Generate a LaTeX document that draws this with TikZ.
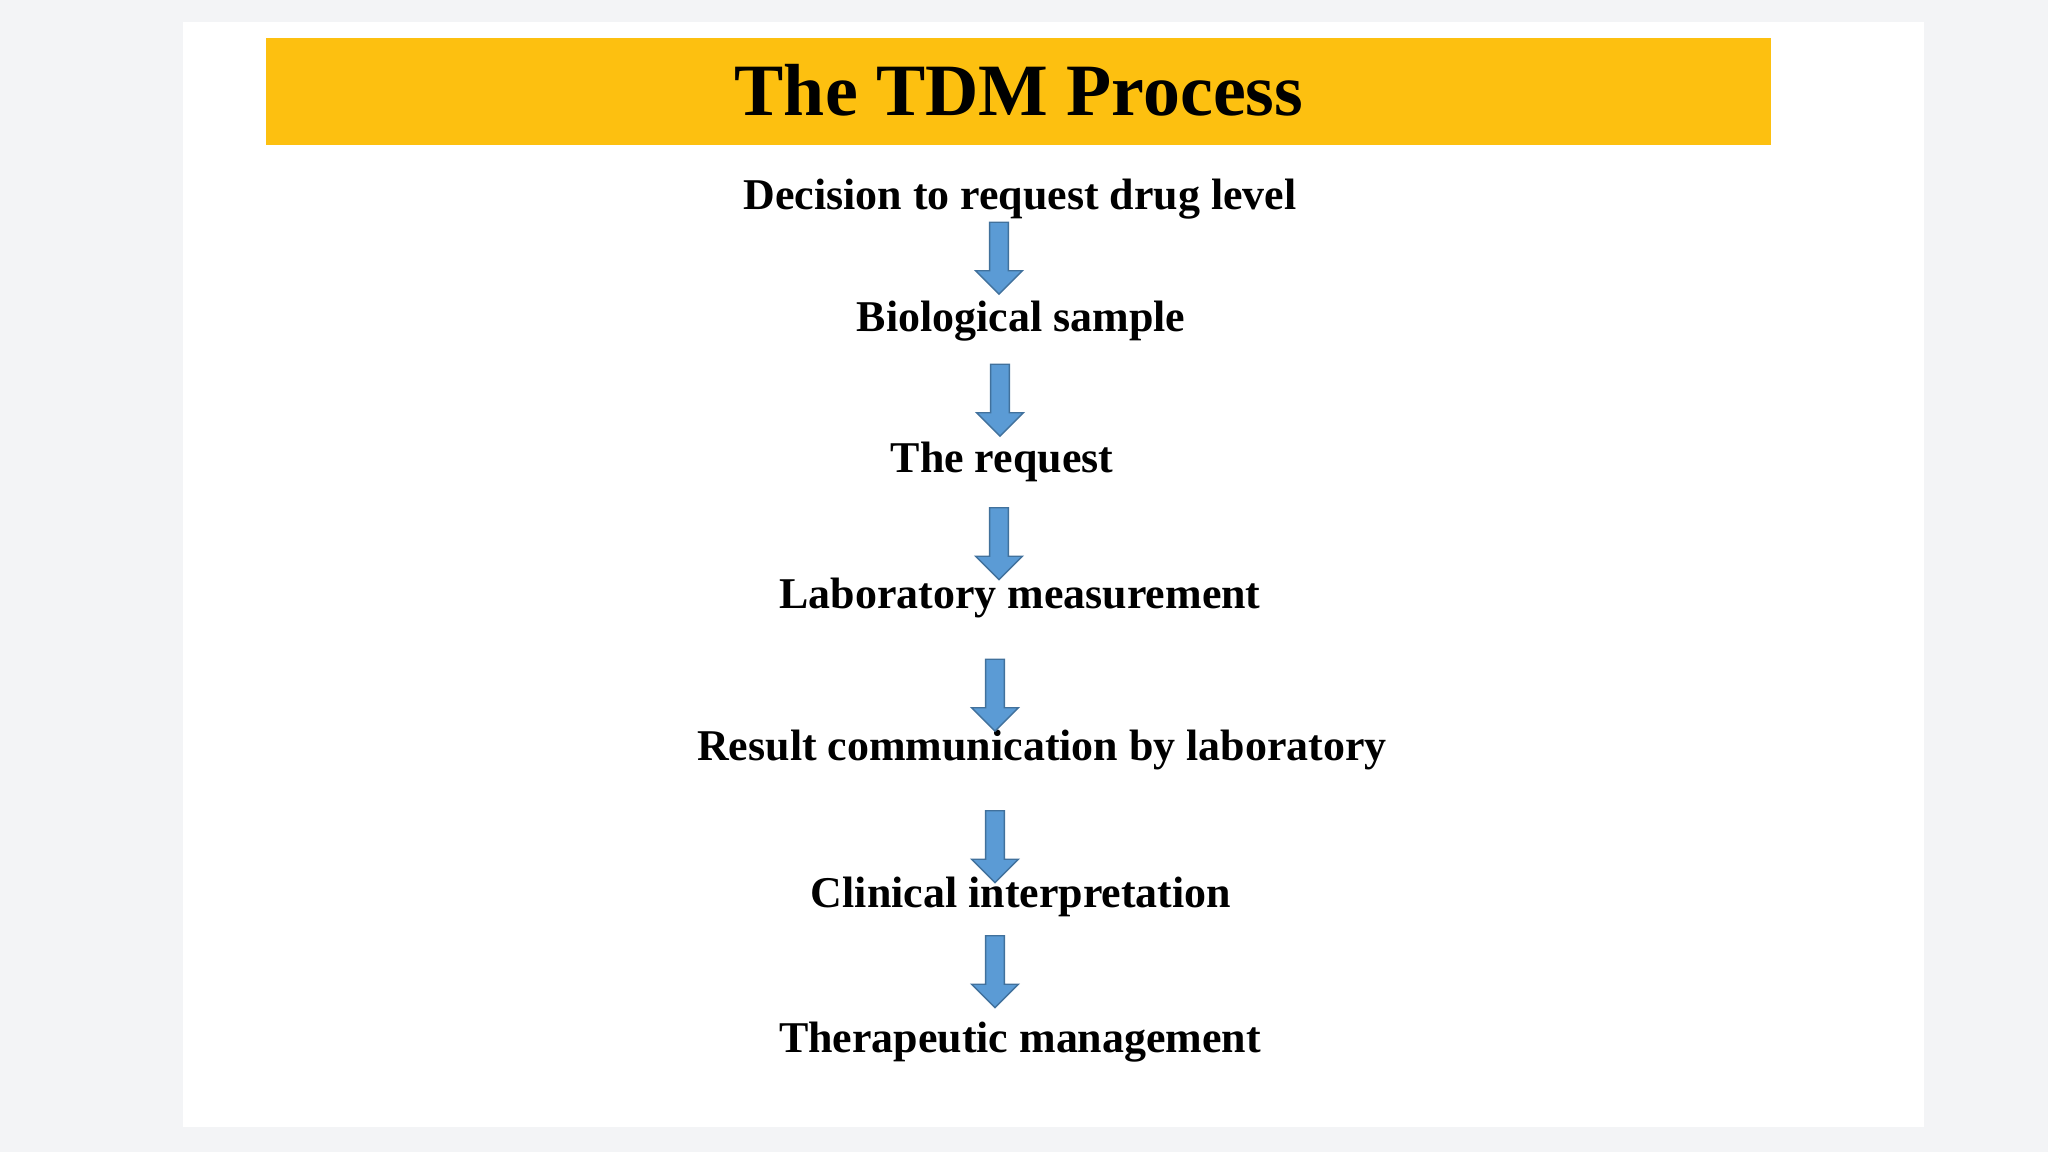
\documentclass[tikz,border=0pt]{standalone}
\usepackage{fontspec}
\setmainfont{Liberation Serif}
\usetikzlibrary{shapes.arrows}
\definecolor{bg}{HTML}{F3F4F6}
\definecolor{banner}{HTML}{FDC010}
\definecolor{arrfill}{HTML}{5B9BD5}
\definecolor{arrdraw}{HTML}{41719C}
\tikzset{
  item/.style={font=\bfseries\fontsize{12.5}{14}\selectfont, inner sep=0pt, anchor=center},
  blockarrow/.style={single arrow, shape border rotate=270, fill=arrfill, draw=arrdraw, line width=0.4pt,
    minimum width=0.47cm, single arrow head extend=0.1cm, single arrow tip angle=90,
    minimum height=0.72cm, inner sep=0.06cm}
}
\begin{document}
\begin{tikzpicture}
\useasboundingbox (0,0) rectangle (20.48,-11.52);
\fill[bg] (0,0) rectangle (20.48,-11.52);
\fill[white] (1.83,-0.22) rectangle (19.24,-11.27);
\fill[banner] (2.66,-0.38) rectangle (17.71,-1.45);
\node[font=\bfseries\fontsize{21}{24}\selectfont, inner sep=0pt] (title) at (10.19,-0.9) {The TDM Process};
\node[item] (s1) at (10.20,-1.99) {Decision to request drug level};
\node[item] (s2) at (10.21,-3.21) {Biological sample};
\node[item] (s3) at (10.02,-4.62) {The request};
\node[item] (s4) at (10.20,-5.98) {Laboratory measurement};
\node[item] (s5) at (10.42,-7.50) {Result communication by laboratory};
\node[item] (s6) at (10.21,-8.97) {Clinical interpretation};
\node[item] (s7) at (10.20,-10.42) {Therapeutic management};
\node[blockarrow] (a1) at (9.99,-2.535) {};
\node[blockarrow] (a2) at (10.00,-3.955) {};
\node[blockarrow] (a3) at (9.99,-5.39) {};
\node[blockarrow] (a4) at (9.95,-6.905) {};
\node[blockarrow] (a5) at (9.95,-8.42) {};
\node[blockarrow] (a6) at (9.95,-9.67) {};
\end{tikzpicture}
\end{document}
